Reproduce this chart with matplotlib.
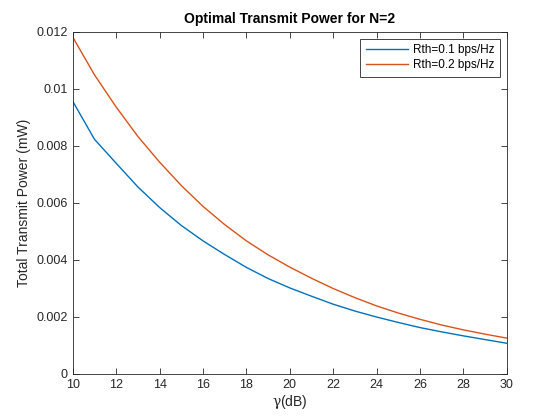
import numpy as np
import matplotlib
matplotlib.use("Agg")
import matplotlib.pyplot as plt

plt.rcParams['font.family'] = ['Liberation Sans', 'DejaVu Sans']
plt.rcParams['mathtext.fontset'] = 'dejavuserif'

# gamma in dB
gamma_db = [10, 11, 12, 13, 14, 15, 16, 17, 18, 19, 20,
            21, 22, 23, 24, 25, 26, 27, 28, 29, 30]
# total transmit power (mW)
p_rth01 = [0.00955, 0.00822, 0.00738, 0.00655, 0.00583, 0.00520, 0.00466,
           0.00418, 0.00373, 0.00334, 0.00301, 0.00272, 0.00244, 0.00220,
           0.00199, 0.00180, 0.00162, 0.00147, 0.00133, 0.00120, 0.00107]
p_rth02 = [0.01180, 0.01048, 0.00935, 0.00832, 0.00742, 0.00660, 0.00587,
           0.00523, 0.00466, 0.00417, 0.00374, 0.00335, 0.00299, 0.00267,
           0.00238, 0.00213, 0.00191, 0.00171, 0.00154, 0.00139, 0.00125]

fig = plt.figure(figsize=(5.6, 4.2), dpi=100)
ax = fig.add_axes([0.13, 0.11, 0.775, 0.815])

ax.plot(gamma_db, p_rth01, color='#0072BD', lw=1.0, label='Rth=0.1 bps/Hz')
ax.plot(gamma_db, p_rth02, color='#D95319', lw=1.0, label='Rth=0.2 bps/Hz')

ax.set_xlim(10, 30)
ax.set_ylim(0, 0.012)
ax.set_xticks(np.arange(10, 31, 2))
ax.set_yticks([0, 0.002, 0.004, 0.006, 0.008, 0.01, 0.012])
ax.set_yticklabels(['0', '0.002', '0.004', '0.006', '0.008', '0.01', '0.012'])

dark = '#262626'
ax.tick_params(direction='in', top=True, right=True, labelsize=9,
               colors=dark, length=4, width=0.6)
for s in ax.spines.values():
    s.set_color(dark)
    s.set_linewidth(0.6)

ax.set_title('Optimal Transmit Power for N=2', fontsize=10, fontweight='bold', pad=6)
ax.set_xlabel(r'$\mathrm{\gamma}$(dB)', fontsize=10, color=dark, labelpad=2)
ax.set_ylabel('Total Transmit Power (mW)', fontsize=10, color=dark)

leg = ax.legend(loc='upper right', fontsize=8.5, fancybox=False, framealpha=1,
                edgecolor=dark, handlelength=3.6, borderaxespad=0.6,
                borderpad=0.45, labelspacing=0.3, handletextpad=0.4)
leg.get_frame().set_linewidth(0.6)

fig.savefig('out.png', dpi=100)
